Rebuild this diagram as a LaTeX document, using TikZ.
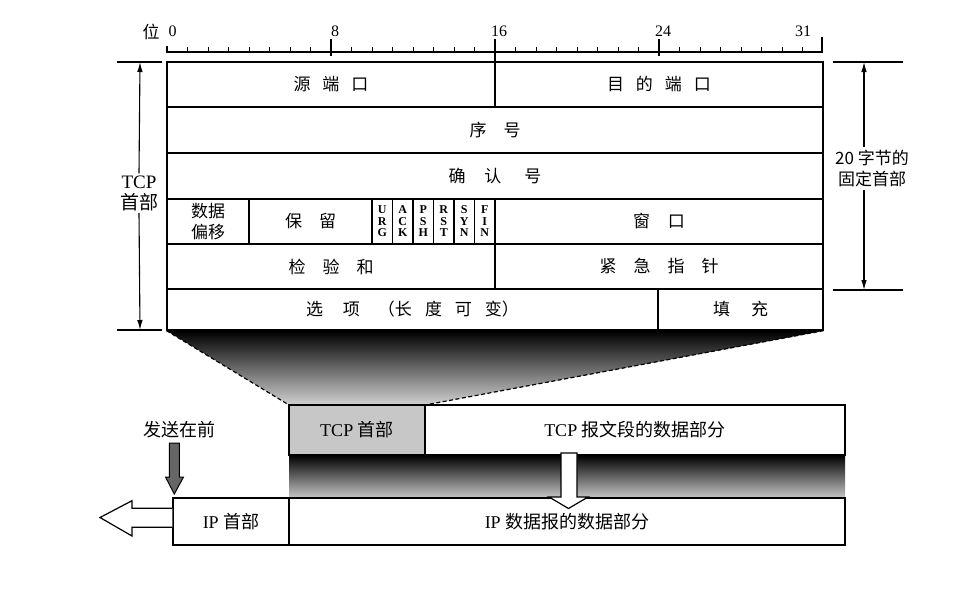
\documentclass[tikz,border=0pt]{standalone}
\usepackage{fontspec}
\setmainfont{Liberation Serif}
\newfontfamily\cjk{Noto Sans CJK SC}
\usetikzlibrary{arrows.meta}
\newcommand\gp[1]{\hspace{#1pt}}
\begin{document}
\begin{tikzpicture}[x=1pt,y=-1pt,
  fld/.style={draw, line width=1.2pt, inner sep=0pt, font=\cjk\fontsize{17}{20}\selectfont},
  flg/.style={draw, line width=1.2pt, inner sep=0pt, minimum width=20.5pt, minimum height=45pt,
    align=center, font=\bfseries\fontsize{12}{11.5}\selectfont},
  thick box/.style={draw, line width=2.2pt},
  num/.style={inner sep=0pt, font=\fontsize{16}{18}\selectfont},
  dimline/.style={line width=1.1pt},
  tip/.style={-{Latex[length=10pt,width=5.5pt]}},
  hollow/.style={draw, line width=1.2pt, fill=white, line join=miter},
  low/.style={draw, line width=1.2pt, inner sep=0pt, font=\fontsize{18}{20}\selectfont}]
\useasboundingbox (0,0) rectangle (969,606);

% ---------- ruler ----------
\draw[line width=1.1pt] (167,46) -- (167,52) -- (822,52) -- (822,37);
\foreach \i in {1,...,31}{
  \draw[line width=1pt] ({167+\i*20.5},52) -- ++(0,-5);
}
\foreach \i in {8,24}{
  \draw[line width=1.1pt] ({167+\i*20.5},39) -- ({167+\i*20.5},56);
}
\draw[line width=1.1pt] (495,39) -- (495,62);
\node[num, font=\cjk\fontsize{17}{18}\selectfont] (wei) at (151,32) {位};
\node[num] (n0) at (172.7,31) {0};
\node[num] (n8) at (335,31) {8};
\node[num] (n16) at (499,31) {16};
\node[num] (n24) at (663,31) {24};
\node[num] (n31) at (803,31) {31};

% ---------- shading trapezoid ----------
\shade[top color=black, middle color=black!62, bottom color=black!18]
  (167,331) -- (823,331) -- (425,405) -- (289,405) -- cycle;
\shade[top color=black, middle color=black!55, bottom color=black!22]
  (289,455) rectangle (845,498);

% ---------- header fields ----------
\node[fld, minimum width=328pt, minimum height=45pt] (sp) at (331,84.5) {源\gp{12}端\gp{12}口};
\node[fld, minimum width=328pt, minimum height=45pt] (dp) at (659,84.5) {目\gp{12}的\gp{12}端\gp{12}口};
\node[fld, minimum width=656pt, minimum height=46pt] (seq) at (495,130) {序\gp{17}号};
\node[fld, minimum width=656pt, minimum height=46pt] (ack) at (495,176) {确\gp{19}认\gp{23}号};
\node[fld, minimum width=82pt, minimum height=45pt, align=center,
  font=\cjk\fontsize{17}{20.5}\selectfont] (off) at (208,221.5) {数据\\偏移};
\node[fld, minimum width=123pt, minimum height=45pt] (res) at (310.5,221.5) {保\gp{17}留};
\node[flg] (urg) at (382.25,221.5) {U\\R\\G};
\node[flg] (fack) at (402.75,221.5) {A\\C\\K};
\node[flg] (psh) at (423.25,221.5) {P\\S\\H};
\node[flg] (rst) at (443.75,221.5) {R\\S\\T};
\node[flg] (syn) at (464.25,221.5) {S\\Y\\N};
\node[flg] (fin) at (484.75,221.5) {F\\I\\N};
\node[fld, minimum width=328pt, minimum height=45pt] (win) at (659,221.5) {窗\gp{18}口};
\node[fld, minimum width=328pt, minimum height=45pt] (cks) at (331,266.5) {检\gp{17}验\gp{17}和};
\node[fld, minimum width=328pt, minimum height=45pt] (uptr) at (659,266.5) {紧\gp{17}急\gp{17}指\gp{17}针};
\node[fld, minimum width=491pt, minimum height=41pt] (opt) at (412.5,309.5)
  {选\gp{20}项\gp{18}（长\gp{13}度\gp{13}可\gp{13}变）};
\node[fld, minimum width=165pt, minimum height=41pt] (pad) at (740.5,309.5) {填\gp{21}充};
\draw[thick box] (167,62) rectangle (823,330);

% ---------- left dimension ----------
\draw[dimline] (117,62) -- (162,62);
\draw[dimline] (117,330) -- (162,330);
\coordinate (lt) at (140,62);
\coordinate (lb) at (140,330);
\node[align=center, inner sep=2pt, font=\fontsize{19}{21}\selectfont] (tcpl) at (139,193)
  {TCP\\{\cjk 首部}};
\draw[dimline, tip] (tcpl.north) -- (lt);
\draw[dimline, tip] (tcpl.south) -- (lb);

% ---------- right dimension ----------
\draw[dimline] (833,62) -- (903,62);
\draw[dimline] (833,290) -- (903,290);
\coordinate (rt) at (864,62);
\coordinate (rb) at (864,290);
\node[align=center, inner sep=3pt, font=\cjk\fontsize{17}{21}\selectfont] (fix) at (872,168.5)
  {20 字节的\\固定首部};
\draw[dimline, tip] (fix.north -| rt) -- (rt);
\draw[dimline, tip] (fix.south -| rb) -- (rb);

% ---------- dashed edges ----------
\coordinate (tl) at (289,405);
\coordinate (tr) at (425,405);
\draw[line width=1.2pt, dash pattern=on 4pt off 2.5pt] (opt.south west) -- (tl);
\draw[line width=1.2pt, dash pattern=on 4pt off 2.5pt] (pad.south east) -- (tr);

% ---------- TCP segment ----------
\node[low, fill=black!22, minimum width=136pt, minimum height=50pt] (tcph) at (357,430)
  {TCP {\cjk 首部}};
\node[low, minimum width=420pt, minimum height=50pt] (tcpd) at (635,430)
  {TCP {\cjk 报文段的数据部分}};
\draw[thick box] (289,405) rectangle (845,455);

% ---------- IP datagram ----------
\node[low, minimum width=116pt, minimum height=47pt] (iph) at (231,521.5) {IP {\cjk 首部}};
\node[low, minimum width=556pt, minimum height=47pt] (ipd) at (567,521.5) {IP {\cjk 数据报的数据部分}};
\draw[thick box] (173,498) rectangle (845,545);

% ---------- arrows ----------
\draw[hollow] (561,453) -- (577,453) -- (577,497) -- (588,497) -- (568.5,508.5)
  -- (549,497) -- (561,497) -- cycle;
\node[inner sep=0pt, font=\cjk\fontsize{18}{20}\selectfont] (first) at (179,430) {发送在前};
\draw[line width=1pt, fill=black!60] (169.3,443) -- (179.3,443) -- (179.3,477) -- (183.5,477)
  -- (174.3,494) -- (165.5,477) -- (169.3,477) -- cycle;
\draw[hollow] (iph.west |- 0,508.3) -- (132,508.3) -- (132,500.7) -- (100,517.5)
  -- (132,536) -- (132,527.3) -- (iph.west |- 0,527.3);
\end{tikzpicture}
\end{document}
